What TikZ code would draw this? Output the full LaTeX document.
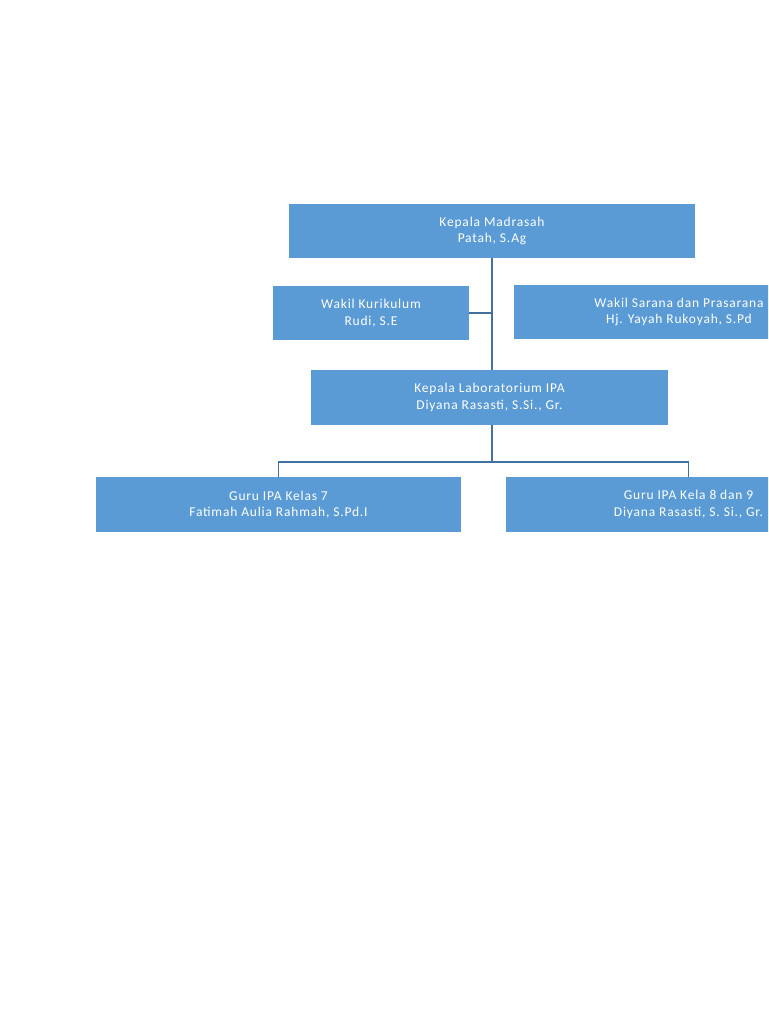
\documentclass[tikz,border=0pt]{standalone}
\usepackage{fontspec}
\setmainfont{Carlito}
\begin{document}
\begin{tikzpicture}[x=1pt,y=-1pt,
  box/.style={fill=boxblue,text=white,inner sep=0pt,align=center,font=\fontsize{13.5}{16.5}\selectfont\addfontfeatures{LetterSpace=6}},
  conn/.style={draw=lineblue,line width=1.5pt}]
\definecolor{boxblue}{HTML}{5B9BD5}
\definecolor{lineblue}{HTML}{41719C}
\useasboundingbox (0,0) rectangle (768,1024);
\clip (0,0) rectangle (768,1024);
\node[box,minimum width=406,minimum height=54] (km) at (492,231) {Kepala Madrasah\\Patah, S.Ag};
\node[box,minimum width=196,minimum height=54] (wk) at (371,313) {Wakil Kurikulum\\Rudi, S.E};
\node[box,minimum width=330,minimum height=54] (ws) at (679,312) {Wakil Sarana dan Prasarana\\Hj. Yayah Rukoyah, S.Pd};
\node[box,minimum width=357,minimum height=55] (kl) at (489.5,397.5) {Kepala Laboratorium IPA\\Diyana Rasasti, S.Si., Gr.};
\node[box,minimum width=365,minimum height=55] (g7) at (278.5,504.5) {Guru IPA Kelas 7\\Fatimah Aulia Rahmah, S.Pd.I};
\node[box,minimum width=365,minimum height=55] (g8) at (688.5,504.5) {Guru IPA Kela 8 dan 9\\Diyana Rasasti, S. Si., Gr.};
\coordinate (j1) at (492,313);
\coordinate (j2) at (492,462);
\draw[conn] (km.south -| j1) -- (kl.north -| j1);
\draw[conn] (wk.east) -- (j1);
\draw[conn] (kl.south -| j2) -- (j2);
\draw[conn] (g7.north) |- (j2) -| (g8.north);
\end{tikzpicture}
\end{document}
